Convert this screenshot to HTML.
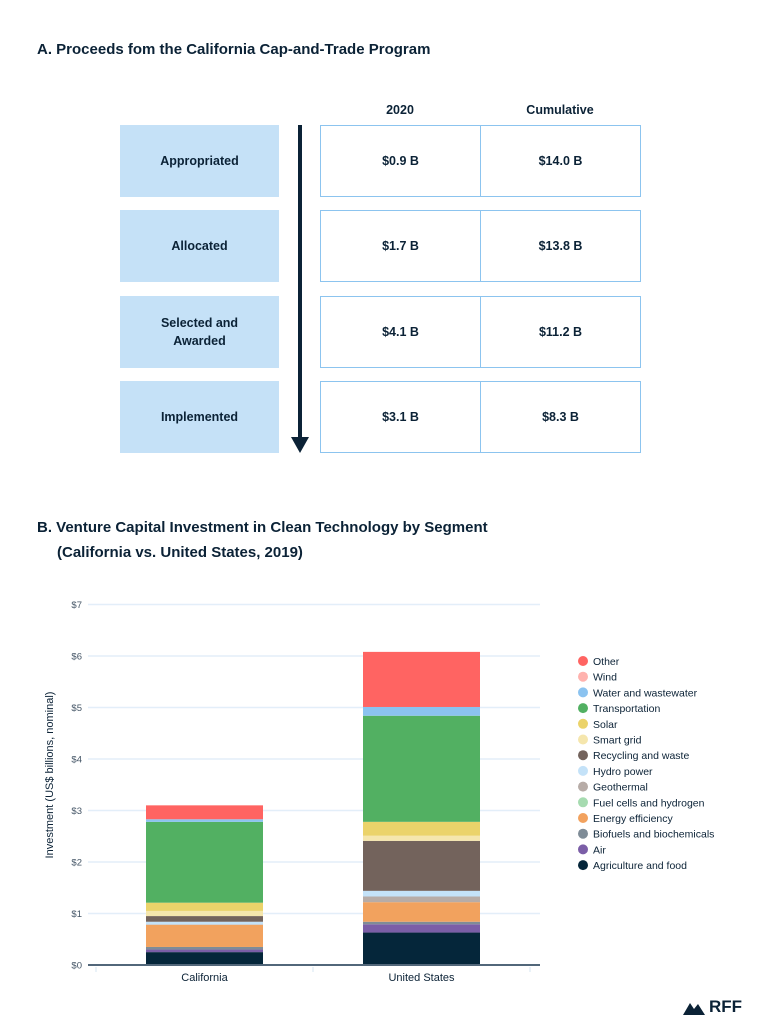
<!DOCTYPE html>
<html><head><meta charset="utf-8"><style>
body{margin:0;width:760px;height:1030px;background:#fff;font-family:"Liberation Sans",sans-serif;color:#0b2236;position:relative;overflow:hidden}
.abs{position:absolute}
.title{font-weight:bold;font-size:15px}
.lab{background:#c5e1f7;display:flex;align-items:center;justify-content:center;text-align:center;font-weight:bold;font-size:12.5px;line-height:18px}
.val{border:1px solid #8cc4ef;box-sizing:border-box;display:flex;align-items:center;justify-content:center;font-weight:bold;font-size:12.5px}
.hdr{font-weight:bold;font-size:12.5px;width:160px;text-align:center}
</style></head><body>
<div class="abs title" style="left:37px;top:41px">A. Proceeds fom the California Cap-and-Trade Program</div>
<div class="abs hdr" style="left:320px;top:103px">2020</div>
<div class="abs hdr" style="left:480px;top:103px">Cumulative</div>
<div id="rows"></div>
<div class="abs" style="left:298px;top:125px;width:4px;height:315px;background:#0b2236"></div>
<div class="abs" style="left:291px;top:437px;width:0;height:0;border-left:9px solid transparent;border-right:9px solid transparent;border-top:16px solid #0b2236"></div>

<div class="abs title" style="left:37px;top:515px;line-height:25px">B. Venture Capital Investment in Clean Technology by Segment<br><span style="padding-left:20px">(California vs. United States, 2019)</span></div>

<svg class="abs" style="left:0;top:0" width="760" height="1030" id="chart"></svg>

<div class="abs" style="left:683px;top:997px;display:flex;align-items:center">
<svg width="24" height="16" viewBox="0 0 24 16"><path d="M0 16 L7 4 L11 10 L15 5 L22 16 Z" fill="#0b2236"/></svg>
<span style="font-weight:bold;font-size:17px;margin-left:2px">RFF</span></div>

<script>
const rowLabels=["Appropriated","Allocated","Selected and<br>Awarded","Implemented"];
const v2020=["$0.9 B","$1.7 B","$4.1 B","$3.1 B"];
const vCum=["$14.0 B","$13.8 B","$11.2 B","$8.3 B"];
const rowTops=[125,210,296,381];
const rows=document.getElementById('rows');
rowLabels.forEach((l,i)=>{
 const t=rowTops[i];
 const a=document.createElement('div');a.className='abs lab';a.style.cssText=`left:120px;top:${t}px;width:159px;height:72px`;a.innerHTML=l;
 
 
 rows.appendChild(a);
 const b=document.createElement('div');b.className='abs val';b.style.cssText=`left:320px;top:${t}px;width:161px;height:72px`;b.textContent=v2020[i];
 
 
 rows.appendChild(b);
 const c=document.createElement('div');c.className='abs val';c.style.cssText=`left:480px;top:${t}px;width:161px;height:72px`;c.textContent=vCum[i];
 
 
 rows.appendChild(c);
});

// chart data
const categories=["California","United States"];
const segments=["Agriculture and food","Air","Biofuels and biochemicals","Energy efficiency","Fuel cells and hydrogen","Geothermal","Hydro power","Recycling and waste","Smart grid","Solar","Transportation","Water and wastewater","Wind","Other"];
const colors=["#05263a","#7b5ea7","#7f8c97","#f2a25e","#a6dbb0","#b7aca7","#c4e2f8","#73635c","#f5e6ad","#ebd36a","#52b062","#8bc3f0","#ffb2ae","#ff6462"];
const caValues=[0.25,0.05,0.05,0.43,0,0.01,0.05,0.11,0.10,0.16,1.57,0.05,0,0.27];
const usValues=[0.63,0.16,0.05,0.38,0,0.11,0.11,0.97,0.10,0.27,2.06,0.17,0,1.07];
const yTicks=[0,1,2,3,4,5,6,7];
const yTickLabels=["$0","$1","$2","$3","$4","$5","$6","$7"];

const svg=document.getElementById('chart');const NS="http://www.w3.org/2000/svg";
const y0=965,pxPer=51.5;
const y=v=>y0-v*pxPer;
const bandL=96,bandW=217;
const xc=i=>bandL+bandW*(i+0.5);
const barW=117;
function mk(tag,attrs){const e=document.createElementNS(NS,tag);for(const k in attrs)e.setAttribute(k,attrs[k]);svg.appendChild(e);return e;}
yTicks.forEach((t,i)=>{
 const g=mk('line',{x1:88,x2:540,y1:y(t),y2:y(t),stroke:'#e3eef9','stroke-width':1.5});
 
 
 const tx=mk('text',{x:82,y:y(t)+3.5,'text-anchor':'end','font-size':9.5,fill:'#445566','font-family':'Liberation Sans, sans-serif'});tx.textContent=yTickLabels[i];
 
 
});
const series=[caValues,usValues];
categories.forEach((c,ci)=>{
 let acc=0;
 series[ci].forEach((v,si)=>{
  if(v<=0)return;
  const r=mk('rect',{x:xc(ci)-barW/2,y:y(acc+v),width:barW,height:v*pxPer,fill:colors[si]});
  
  
  acc+=v;
 });
 const tl=mk('text',{x:xc(ci),y:981,'text-anchor':'middle','font-size':11,fill:'#0b2236','font-family':'Liberation Sans, sans-serif'});tl.textContent=c;
 
 
});
const ax=mk('line',{x1:88,x2:540,y1:y0,y2:y0,stroke:'#52677a','stroke-width':2});


[0,1,2].forEach(i=>{const tk=mk('line',{x1:bandL+bandW*i,x2:bandL+bandW*i,y1:967,y2:972,stroke:'#d6e4f0'});
 
 });
const yt=mk('text',{x:0,y:0,transform:'translate(53,775) rotate(-90)','text-anchor':'middle','font-size':11,fill:'#0b2236','font-family':'Liberation Sans, sans-serif'});yt.textContent="Investment (US$ billions, nominal)";


// legend: top to bottom reversed
const legOrder=segments.map((s,i)=>i).reverse();
legOrder.forEach((si,k)=>{
 const ly=661+k*15.7;
 const c=mk('circle',{cx:583,cy:ly,r:5,fill:colors[si]});
 
 
 const t=mk('text',{x:593,y:ly+4,'font-size':10.5,fill:'#0b2236','font-family':'Liberation Sans, sans-serif'});t.textContent=segments[si];
 
 
});
</script>
</body></html>
